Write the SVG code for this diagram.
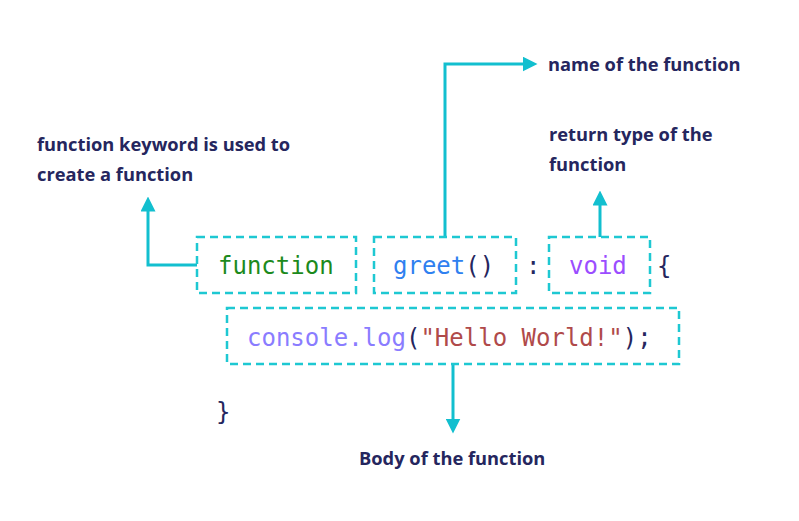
<svg xmlns="http://www.w3.org/2000/svg" width="799" height="521" viewBox="0 0 799 521">
<style>
.box{fill:none;stroke:#1ec8d2;stroke-width:2.5;stroke-dasharray:8 5}
.con{fill:none;stroke:#12bfcf;stroke-width:3}
.lbl{font-family:"Open Sans","Liberation Sans",sans-serif;font-weight:bold;font-size:18.3px;fill:#25265e}
.code{font-family:"DejaVu Sans Mono",monospace;font-size:24px}
</style>
<defs><marker id="a" viewBox="0 0 10 10" refX="5" refY="5" markerWidth="5" markerHeight="5" orient="auto"><path d="M0,0L10,5L0,10z" fill="#12bfcf"/></marker></defs>
<rect width="799" height="521" fill="#fff"/>
<g id="connectors">
<path class="con" d="M197,265H148V204" marker-end="url(#a)"/>
<path class="con" d="M445,237V64H530" marker-end="url(#a)"/>
<path class="con" d="M600,237V198" marker-end="url(#a)"/>
<path class="con" d="M453,364V426" marker-end="url(#a)"/>
</g>
<g id="n-function"><rect class="box" x="197" y="237" width="159" height="56"/><text class="code" x="218" y="274" fill="#1c8a1c">function</text></g>
<g id="n-greet"><rect class="box" x="374" y="237" width="142" height="56"/><text class="code" x="393" y="274"><tspan fill="#2f80f0">greet</tspan><tspan fill="#25265e">()</tspan></text></g>
<text class="code" x="526" y="274" fill="#25265e">:</text>
<g id="n-void"><rect class="box" x="549" y="237" width="101" height="56"/><text class="code" x="569" y="274" fill="#9b4dff">void</text></g>
<text class="code" x="657" y="274" fill="#25265e">{</text>
<g id="n-body"><rect class="box" x="227" y="308" width="452" height="56"/><text class="code" x="247" y="346"><tspan fill="#8a7cff">console.log</tspan><tspan fill="#25265e">(</tspan><tspan fill="#b04a4a">"Hello World!"</tspan><tspan fill="#25265e">);</tspan></text></g>
<text class="code" x="216" y="420" fill="#25265e">}</text>
<g id="l-kw"><text class="lbl" x="37" y="151">function keyword is used to</text><text class="lbl" x="37" y="181">create a function</text></g>
<g id="l-name"><text class="lbl" x="548" y="71">name of the function</text></g>
<g id="l-ret"><text class="lbl" x="549" y="141">return type of the</text><text class="lbl" x="549" y="171">function</text></g>
<g id="l-body"><text class="lbl" x="359" y="465">Body of the function</text></g>
</svg>
